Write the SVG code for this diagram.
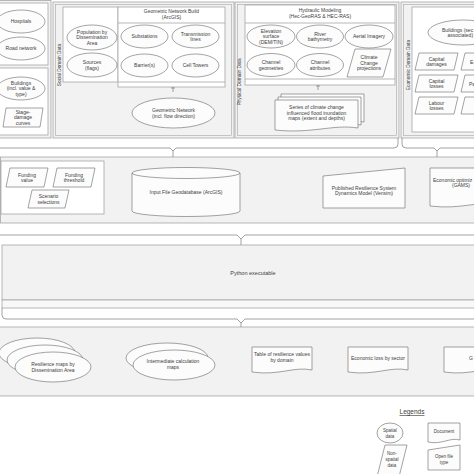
<svg xmlns="http://www.w3.org/2000/svg" width="474" height="474" viewBox="0 0 474 474">
<style>
.p{fill:#f2f2f2;stroke:#a6a6a6;stroke-width:0.8}
.b{fill:#fff;stroke:#a6a6a6;stroke-width:0.8}
.s{fill:#fcfcfc;stroke:#666;stroke-width:0.6}
.t{font-family:"Liberation Sans",Arial,sans-serif;font-size:5px;fill:#404040;text-anchor:middle}
.v{font-family:"Liberation Sans",Arial,sans-serif;font-size:4.8px;fill:#404040;text-anchor:middle}
.c{fill:none;stroke:#8c8c8c;stroke-width:0.8}
</style>
<rect width="474" height="474" fill="#fff"/>

<!-- Column 1 -->
<g id="col1">
<rect class="p" x="-4" y="0.5" width="55" height="137.5"/>
<rect class="b" x="-4" y="3" width="52" height="62"/>
<rect class="b" x="-4" y="68" width="52" height="67"/>
</g>
<g id="hospitals"><ellipse class="s" cx="21" cy="21.5" rx="24" ry="11.5"/><text class="t" x="21" y="23.3">Hospitals</text></g>
<g id="road"><ellipse class="s" cx="21" cy="48.5" rx="24" ry="11.5"/><text class="t" x="21" y="50.3">Road network</text></g>
<g id="buildings"><ellipse class="s" cx="21" cy="88.5" rx="24" ry="11.5"/><text class="t" x="21" y="84.8">Buildings</text><text class="t" x="21" y="90.3">(incl. value &amp;</text><text class="t" x="21" y="95.8">type)</text></g>
<g id="stagedamage"><polygon class="s" points="6,108 43,108 40,127 3,127"/><text class="t" x="23" y="113.8">Stage-</text><text class="t" x="23" y="119.3">damage</text><text class="t" x="23" y="124.8">curves</text></g>

<!-- Column 2 -->
<g id="social">
<rect class="p" x="53" y="2" width="181" height="136"/>
<rect fill="none" stroke="#a6a6a6" stroke-width="0.6" x="55.5" y="4.5" width="176" height="131"/>
<text class="v" transform="translate(61,65) rotate(-90)">Social Domain Data</text>
<rect class="b" x="63" y="7" width="55" height="75"/>
<rect class="b" x="118" y="7" width="107" height="80"/>
<line x1="118" y1="23" x2="225" y2="23" stroke="#a6a6a6" stroke-width="0.8"/>
<line x1="118" y1="82" x2="225" y2="82" stroke="#a6a6a6" stroke-width="0.8"/>
<text class="t" x="171.5" y="12.5">Geometric Network Build</text>
<text class="t" x="171.5" y="18.5">(ArcGIS)</text>
</g>
<g id="population"><ellipse class="s" cx="92" cy="37.5" rx="25" ry="12.5"/><text class="t" x="92" y="33.8">Population by</text><text class="t" x="92" y="39.3">Dissemination</text><text class="t" x="92" y="44.8">Area</text></g>
<g id="sources"><ellipse class="s" cx="92" cy="65" rx="25" ry="12"/><text class="t" x="92" y="64.05">Sources</text><text class="t" x="92" y="69.55">(flags)</text></g>
<g id="substations"><ellipse class="s" cx="144.5" cy="36.5" rx="23.5" ry="11.5"/><text class="t" x="144.5" y="38.3">Substations</text></g>
<g id="transmission"><ellipse class="s" cx="195.5" cy="36.5" rx="23.5" ry="11.5"/><text class="t" x="195.5" y="35.55">Transmission</text><text class="t" x="195.5" y="41.05">lines</text></g>
<g id="barriers"><ellipse class="s" cx="144.5" cy="65.5" rx="23.5" ry="11.5"/><text class="t" x="144.5" y="67.3">Barrier(s)</text></g>
<g id="celltowers"><ellipse class="s" cx="195.5" cy="65.5" rx="23.5" ry="11.5"/><text class="t" x="195.5" y="67.3">Cell Towers</text></g>
<g id="geonetwork"><ellipse class="s" cx="173.5" cy="113" rx="41.5" ry="15"/><text class="t" x="173.5" y="112">Geometric Network</text><text class="t" x="173.5" y="117.5">(incl. flow direction)</text></g>

<!-- Column 3 -->
<g id="physical">
<rect class="p" x="235" y="2" width="164" height="136"/>
<rect fill="none" stroke="#a6a6a6" stroke-width="0.6" x="237.5" y="4.5" width="159" height="131"/>
<text class="v" transform="translate(241,82) rotate(-90)">Physical Domain Data</text>
<rect class="b" x="245" y="5" width="150" height="80"/>
<line x1="245" y1="23" x2="395" y2="23" stroke="#a6a6a6" stroke-width="0.8"/>
<line x1="245" y1="79" x2="395" y2="79" stroke="#a6a6a6" stroke-width="0.8"/>
<text class="t" x="320" y="11.5">Hydraulic Modeling</text>
<text class="t" x="320" y="17.5">(Hec-GeoRAS &amp; HEC-RAS)</text>
</g>
<g id="elevation"><ellipse class="s" cx="271" cy="36.5" rx="24" ry="11.5"/><text class="t" x="271" y="32.8">Elevation</text><text class="t" x="271" y="38.3">surface</text><text class="t" x="271" y="43.8">(DEM/TIN)</text></g>
<g id="river"><ellipse class="s" cx="320" cy="36.5" rx="23.5" ry="11.5"/><text class="t" x="320" y="35.55">River</text><text class="t" x="320" y="41.05">bathymetry</text></g>
<g id="aerial"><ellipse class="s" cx="369" cy="36.5" rx="24" ry="11.5"/><text class="t" x="369" y="38.3">Aerial Imagery</text></g>
<g id="chgeom"><ellipse class="s" cx="271" cy="65" rx="24" ry="11.5"/><text class="t" x="271" y="64.05">Channel</text><text class="t" x="271" y="69.55">geometries</text></g>
<g id="chattr"><ellipse class="s" cx="320" cy="65" rx="23.5" ry="11.5"/><text class="t" x="320" y="64.05">Channel</text><text class="t" x="320" y="69.55">attributes</text></g>
<g id="climate"><polygon class="s" points="355,49 391,49 383,77 347,77"/><text class="t" x="369" y="59.3">Climate</text><text class="t" x="369" y="64.8">Change</text><text class="t" x="369" y="70.3">projections</text></g>
<g id="floodmaps">
<path class="s" d="M281,94 h83 v28 c-25,-4 -46,6 -83,2 z"/>
<path class="s" d="M278,97 h83 v28 c-25,-4 -46,6 -83,2 z"/>
<path class="s" d="M275,100 h83 v28 c-25,-4 -46,6 -83,2 z"/>
<text class="t" x="316.5" y="109">Series of climate change</text>
<text class="t" x="316.5" y="114.5">influenced flood inundation</text>
<text class="t" x="316.5" y="120">maps (extent and depths)</text>
</g>

<!-- Column 4 -->
<g id="economic">
<rect class="p" x="401" y="2" width="80" height="136"/>
<rect fill="none" stroke="#a6a6a6" stroke-width="0.6" x="403.5" y="4.5" width="80" height="131"/>
<text class="v" transform="translate(410,65) rotate(-90)">Economic Domain Data</text>
<rect class="b" x="412" y="7" width="70" height="125"/>
</g>
<g id="bldsector"><ellipse class="s" cx="463" cy="32.5" rx="35" ry="12.5"/><text class="t" x="442" y="31.55" style="text-anchor:start">Buildings (sec</text><text class="t" x="447.5" y="37.05" style="text-anchor:start">associated)</text></g>
<g id="capdamages"><polygon class="s" points="419,53 458,53 454,70 415,70"/><text class="t" x="436.5" y="60.55">Capital</text><text class="t" x="436.5" y="66.05">damages</text></g>
<g id="caplosses"><polygon class="s" points="419,75 458,75 454,92 415,92"/><text class="t" x="436.5" y="82.55">Capital</text><text class="t" x="436.5" y="88.05">losses</text></g>
<g id="labour"><polygon class="s" points="419,97 458,97 454,114 415,114"/><text class="t" x="436.5" y="104.55">Labour</text><text class="t" x="436.5" y="110.05">losses</text></g>
<g id="econ2"><polygon class="s" points="465,53 504,53 500,70 461,70"/><text class="t" x="470" y="64" style="text-anchor:start">E-</text></g>
<g id="econ3"><polygon class="s" points="465,75 504,75 500,92 461,92"/><text class="t" x="469" y="85.5" style="text-anchor:start">Pa</text></g>
<g id="econ4"><polygon class="s" points="465,97 504,97 500,114 461,114"/></g>

<!-- Section 2 -->
<g id="inputs">
<rect class="p" x="0.5" y="157" width="480" height="66"/>
<rect class="b" x="1" y="161" width="103" height="53"/>
</g>
<g id="fundvalue"><polygon class="s" points="10,168 48,168 44,187 6,187"/><text class="t" x="27" y="176.55">Funding</text><text class="t" x="27" y="182.05">value</text></g>
<g id="fundthresh"><polygon class="s" points="57,168 95,168 91,187 53,187"/><text class="t" x="74" y="176.55">Funding</text><text class="t" x="74" y="182.05">threshold</text></g>
<g id="scenario"><polygon class="s" points="32,190 69,190 65,208 28,208"/><text class="t" x="48.5" y="198.05">Scenario</text><text class="t" x="48.5" y="203.55">selections</text></g>
<g id="geodb">
<path class="s" d="M132,173 A54,5.5 0 0 1 240,173 V211 A54,5.5 0 0 1 132,211 Z"/>
<path fill="none" stroke="#666" stroke-width="0.6" d="M132,173 A54,5.5 0 0 0 240,173"/>
<text class="t" x="186" y="194">Input File Geodatabase (ArcGIS)</text>
</g>
<g id="vensim"><polygon class="s" points="323,176 405,168 405,208 323,208"/><text class="t" x="364" y="189.5">Published Resilience System</text><text class="t" x="364" y="195">Dynamics Model (Vensim)</text></g>
<g id="gams"><path class="s" d="M430,168 h72 v36 c-22,-4 -40,6 -72,2 z"/><text class="t" x="433" y="181.5" style="text-anchor:start">Economic optimiz</text><text class="t" x="461" y="187">(GAMS)</text></g>

<!-- Python -->
<g id="python">
<rect class="p" x="2" y="245" width="480" height="55"/>
<rect fill="#f8f8f8" stroke="#a6a6a6" stroke-width="0.8" x="2" y="300" width="480" height="8"/>
<text class="t" x="253" y="274.5" style="font-size:5.5px">Python executable</text>
</g>

<!-- Section 4 -->
<g id="outputs"><rect class="p" x="-2" y="327" width="484" height="69"/></g>
<g id="resmaps">
<ellipse class="s" cx="37" cy="353" rx="38" ry="15"/>
<ellipse class="s" cx="45" cy="360" rx="38" ry="15"/>
<ellipse class="s" cx="53" cy="367" rx="38" ry="15"/>
<text class="t" x="53" y="366">Resilience maps by</text><text class="t" x="53" y="371.5">Dissemination Area</text>
</g>
<g id="intermaps">
<ellipse class="s" cx="167" cy="358" rx="41" ry="15"/>
<ellipse class="s" cx="174" cy="365" rx="41" ry="15"/>
<text class="t" x="173" y="363">Intermediate calculation</text><text class="t" x="173" y="368.5">maps</text>
</g>
<g id="table"><path class="s" d="M252,347 h60 v23 c-18,-4 -33,6 -60,2 z"/><text class="t" x="282" y="356">Table of resilience values</text><text class="t" x="282" y="361.5">by domain</text></g>
<g id="econloss"><path class="s" d="M348,347 h60 v23 c-18,-4 -33,6 -60,2 z"/><text class="t" x="378" y="360">Economic loss by sector</text></g>
<g id="out3"><path class="s" d="M444,347 h60 v23 c-18,-4 -33,6 -60,2 z"/><text class="t" x="469" y="360" style="text-anchor:start">G</text></g>

<!-- Connectors / braces -->
<g id="connectors" class="c">
<path d="M173,87 V92 M171,88 H175"/>
<path d="M318,85 V90 M316,86 H320"/>
<path d="M-4,138 V144 Q-4,148 0,148 H170 L173,151 L176,148 H394 Q398,148 398,144 V138"/>
<path d="M173,151 V157"/>
<path d="M402,138 V144 Q402,148 406,148 H434 L437,151 L440,148 H482"/>
<path d="M437,151 V157"/>
<path d="M-2,235 H237 L241,239 L245,235 H482 M241,239 V245"/>
<path d="M2,308 V315 Q2,319 6,319 H237 L241,323 L245,319 H482 M241,323 V327"/>
</g>

<!-- Legends -->
<g id="legends">
<text x="412" y="414" style="font-family:'Liberation Sans',Arial,sans-serif;font-size:6.5px;fill:#404040;text-anchor:middle;text-decoration:underline">Legends</text>
</g>
<g id="leg-spatial"><ellipse class="s" cx="390" cy="433" rx="13" ry="10"/><text class="t" x="390" y="432" style="font-size:4.5px">Spatial</text><text class="t" x="390" y="437.5" style="font-size:4.5px">data</text></g>
<g id="leg-doc"><path class="s" d="M428,423 h32 v17 c-10,-3 -18,5 -32,2 z"/><text class="t" x="444" y="432.5" style="font-size:4.5px">Document</text></g>
<g id="leg-nonspatial"><polygon class="s" points="385,445 407,445 399,477 377,477"/><text class="t" x="392" y="455" style="font-size:4.5px">Non-</text><text class="t" x="392" y="461" style="font-size:4.5px">spatial</text><text class="t" x="392" y="467" style="font-size:4.5px">data</text></g>
<g id="leg-open"><polygon class="s" points="428,450 460,445 460,470 428,470"/><text class="t" x="444" y="458" style="font-size:4.5px">Open file</text><text class="t" x="444" y="463.5" style="font-size:4.5px">type</text></g>
</svg>
